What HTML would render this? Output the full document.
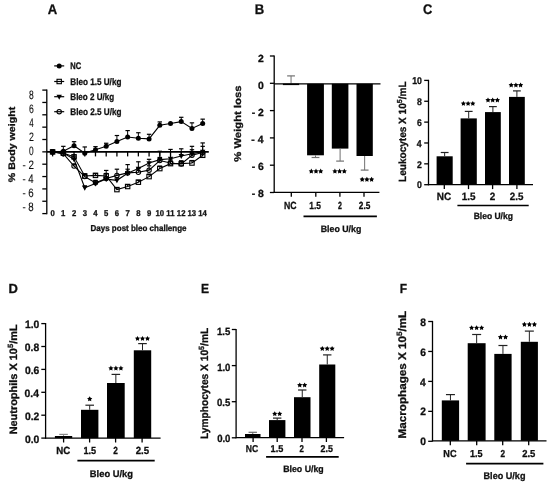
<!DOCTYPE html>
<html><head><meta charset="utf-8"><style>
html,body{margin:0;padding:0;background:#fff;}
svg{display:block;font-family:"Liberation Sans", sans-serif;text-rendering:geometricPrecision;}
text{stroke:#111;stroke-width:0.3;}
text[font-weight=normal]{stroke-width:0.12;}
</style></head><body>
<svg width="550" height="485" viewBox="0 0 550 485">
<defs><filter id="bl" x="0" y="0" width="100%" height="100%"><feGaussianBlur stdDeviation="0.4"/></filter></defs>
<rect width="550" height="485" fill="#fff"/>
<g filter="url(#bl)">
<rect width="550" height="485" fill="#fff"/>
<text x="47.74" y="13.50" font-size="14" font-weight="bold" fill="#111" textLength="9.46" lengthAdjust="spacingAndGlyphs">A</text>
<text x="254.79" y="13.50" font-size="14" font-weight="bold" fill="#111" textLength="9.46" lengthAdjust="spacingAndGlyphs">B</text>
<text x="422.92" y="13.50" font-size="14" font-weight="bold" fill="#111" textLength="9.28" lengthAdjust="spacingAndGlyphs">C</text>
<text x="8.59" y="293.00" font-size="13.2" font-weight="bold" fill="#111" textLength="9.39" lengthAdjust="spacingAndGlyphs">D</text>
<text x="200.95" y="292.80" font-size="13.2" font-weight="bold" fill="#111" textLength="8.07" lengthAdjust="spacingAndGlyphs">E</text>
<text x="399.66" y="292.80" font-size="13.2" font-weight="bold" fill="#111" textLength="7.32" lengthAdjust="spacingAndGlyphs">F</text>
<line x1="46.80" y1="89.50" x2="46.80" y2="214.20" stroke="#000" stroke-width="1.3" stroke-linecap="butt"/>
<line x1="42.30" y1="90.10" x2="46.80" y2="90.10" stroke="#000" stroke-width="1.3" stroke-linecap="butt"/>
<line x1="42.30" y1="102.45" x2="46.80" y2="102.45" stroke="#000" stroke-width="1.3" stroke-linecap="butt"/>
<line x1="42.30" y1="114.80" x2="46.80" y2="114.80" stroke="#000" stroke-width="1.3" stroke-linecap="butt"/>
<line x1="42.30" y1="127.15" x2="46.80" y2="127.15" stroke="#000" stroke-width="1.3" stroke-linecap="butt"/>
<line x1="42.30" y1="139.50" x2="46.80" y2="139.50" stroke="#000" stroke-width="1.3" stroke-linecap="butt"/>
<line x1="42.30" y1="151.85" x2="46.80" y2="151.85" stroke="#000" stroke-width="1.3" stroke-linecap="butt"/>
<line x1="42.30" y1="164.20" x2="46.80" y2="164.20" stroke="#000" stroke-width="1.3" stroke-linecap="butt"/>
<line x1="42.30" y1="176.55" x2="46.80" y2="176.55" stroke="#000" stroke-width="1.3" stroke-linecap="butt"/>
<line x1="42.30" y1="188.90" x2="46.80" y2="188.90" stroke="#000" stroke-width="1.3" stroke-linecap="butt"/>
<line x1="42.30" y1="201.25" x2="46.80" y2="201.25" stroke="#000" stroke-width="1.3" stroke-linecap="butt"/>
<line x1="42.30" y1="213.60" x2="46.80" y2="213.60" stroke="#000" stroke-width="1.3" stroke-linecap="butt"/>
<text x="28.98" y="98.50" font-size="12.2" font-weight="normal" fill="#111" textLength="4.73" lengthAdjust="spacingAndGlyphs">8</text>
<text x="28.92" y="112.60" font-size="12.2" font-weight="normal" fill="#111" textLength="4.80" lengthAdjust="spacingAndGlyphs">6</text>
<text x="29.18" y="126.70" font-size="12.2" font-weight="normal" fill="#111" textLength="4.41" lengthAdjust="spacingAndGlyphs">4</text>
<text x="28.91" y="140.80" font-size="12.2" font-weight="normal" fill="#111" textLength="4.88" lengthAdjust="spacingAndGlyphs">2</text>
<text x="29.02" y="154.90" font-size="12.2" font-weight="normal" fill="#111" textLength="4.64" lengthAdjust="spacingAndGlyphs">0</text>
<text x="22.42" y="169.00" font-size="12.2" font-weight="normal" fill="#111" textLength="11.42" lengthAdjust="spacingAndGlyphs">- 2</text>
<text x="22.43" y="183.10" font-size="12.2" font-weight="normal" fill="#111" textLength="11.20" lengthAdjust="spacingAndGlyphs">- 4</text>
<text x="22.42" y="197.20" font-size="12.2" font-weight="normal" fill="#111" textLength="11.35" lengthAdjust="spacingAndGlyphs">- 6</text>
<text x="22.42" y="211.30" font-size="12.2" font-weight="normal" fill="#111" textLength="11.35" lengthAdjust="spacingAndGlyphs">- 8</text>
<line x1="46.80" y1="151.90" x2="208.80" y2="151.90" stroke="#000" stroke-width="1.7" stroke-linecap="butt"/>
<line x1="52.60" y1="151.90" x2="52.60" y2="156.40" stroke="#000" stroke-width="1.3" stroke-linecap="butt"/>
<line x1="63.32" y1="151.90" x2="63.32" y2="156.40" stroke="#000" stroke-width="1.3" stroke-linecap="butt"/>
<line x1="74.04" y1="151.90" x2="74.04" y2="156.40" stroke="#000" stroke-width="1.3" stroke-linecap="butt"/>
<line x1="84.76" y1="151.90" x2="84.76" y2="156.40" stroke="#000" stroke-width="1.3" stroke-linecap="butt"/>
<line x1="95.48" y1="151.90" x2="95.48" y2="156.40" stroke="#000" stroke-width="1.3" stroke-linecap="butt"/>
<line x1="106.20" y1="151.90" x2="106.20" y2="156.40" stroke="#000" stroke-width="1.3" stroke-linecap="butt"/>
<line x1="116.92" y1="151.90" x2="116.92" y2="156.40" stroke="#000" stroke-width="1.3" stroke-linecap="butt"/>
<line x1="127.64" y1="151.90" x2="127.64" y2="156.40" stroke="#000" stroke-width="1.3" stroke-linecap="butt"/>
<line x1="138.36" y1="151.90" x2="138.36" y2="156.40" stroke="#000" stroke-width="1.3" stroke-linecap="butt"/>
<line x1="149.08" y1="151.90" x2="149.08" y2="156.40" stroke="#000" stroke-width="1.3" stroke-linecap="butt"/>
<line x1="159.80" y1="151.90" x2="159.80" y2="156.40" stroke="#000" stroke-width="1.3" stroke-linecap="butt"/>
<line x1="170.52" y1="151.90" x2="170.52" y2="156.40" stroke="#000" stroke-width="1.3" stroke-linecap="butt"/>
<line x1="181.24" y1="151.90" x2="181.24" y2="156.40" stroke="#000" stroke-width="1.3" stroke-linecap="butt"/>
<line x1="191.96" y1="151.90" x2="191.96" y2="156.40" stroke="#000" stroke-width="1.3" stroke-linecap="butt"/>
<line x1="202.68" y1="151.90" x2="202.68" y2="156.40" stroke="#000" stroke-width="1.3" stroke-linecap="butt"/>
<text x="50.46" y="216.40" font-size="8.4" font-weight="bold" fill="#111" textLength="4.30" lengthAdjust="spacingAndGlyphs">0</text>
<text x="61.04" y="216.40" font-size="8.4" font-weight="bold" fill="#111" textLength="4.30" lengthAdjust="spacingAndGlyphs">1</text>
<text x="71.91" y="216.40" font-size="8.4" font-weight="bold" fill="#111" textLength="4.30" lengthAdjust="spacingAndGlyphs">2</text>
<text x="82.66" y="216.40" font-size="8.4" font-weight="bold" fill="#111" textLength="4.30" lengthAdjust="spacingAndGlyphs">3</text>
<text x="93.29" y="216.40" font-size="8.4" font-weight="bold" fill="#111" textLength="4.30" lengthAdjust="spacingAndGlyphs">4</text>
<text x="104.04" y="216.40" font-size="8.4" font-weight="bold" fill="#111" textLength="4.30" lengthAdjust="spacingAndGlyphs">5</text>
<text x="114.77" y="216.40" font-size="8.4" font-weight="bold" fill="#111" textLength="4.30" lengthAdjust="spacingAndGlyphs">6</text>
<text x="125.50" y="216.40" font-size="8.4" font-weight="bold" fill="#111" textLength="4.30" lengthAdjust="spacingAndGlyphs">7</text>
<text x="136.21" y="216.40" font-size="8.4" font-weight="bold" fill="#111" textLength="4.30" lengthAdjust="spacingAndGlyphs">8</text>
<text x="146.94" y="216.40" font-size="8.4" font-weight="bold" fill="#111" textLength="4.30" lengthAdjust="spacingAndGlyphs">9</text>
<text x="155.42" y="216.40" font-size="8.4" font-weight="bold" fill="#111" textLength="8.60" lengthAdjust="spacingAndGlyphs">10</text>
<text x="166.30" y="216.40" font-size="8.4" font-weight="bold" fill="#111" textLength="8.17" lengthAdjust="spacingAndGlyphs">11</text>
<text x="176.85" y="216.40" font-size="8.4" font-weight="bold" fill="#111" textLength="8.60" lengthAdjust="spacingAndGlyphs">12</text>
<text x="187.56" y="216.40" font-size="8.4" font-weight="bold" fill="#111" textLength="8.60" lengthAdjust="spacingAndGlyphs">13</text>
<text x="198.16" y="216.40" font-size="8.4" font-weight="bold" fill="#111" textLength="8.60" lengthAdjust="spacingAndGlyphs">14</text>
<text x="90.52" y="230.60" font-size="8.6" font-weight="bold" fill="#111" textLength="96.00" lengthAdjust="spacingAndGlyphs">Days post bleo challenge</text>
<text transform="translate(14.60,182.20) rotate(-90)" x="0" y="0" font-size="9.4" font-weight="bold" fill="#111" textLength="75.39" lengthAdjust="spacingAndGlyphs">% Body weight</text>
<line x1="63.32" y1="153.14" x2="63.32" y2="151.28" stroke="#000" stroke-width="1.0" stroke-linecap="butt"/>
<line x1="61.12" y1="151.28" x2="65.52" y2="151.28" stroke="#000" stroke-width="1.2" stroke-linecap="butt"/>
<line x1="74.04" y1="156.84" x2="74.04" y2="154.99" stroke="#000" stroke-width="1.0" stroke-linecap="butt"/>
<line x1="71.84" y1="154.99" x2="76.24" y2="154.99" stroke="#000" stroke-width="1.2" stroke-linecap="butt"/>
<line x1="84.76" y1="176.00" x2="84.76" y2="174.15" stroke="#000" stroke-width="1.0" stroke-linecap="butt"/>
<line x1="82.56" y1="174.15" x2="86.96" y2="174.15" stroke="#000" stroke-width="1.2" stroke-linecap="butt"/>
<line x1="95.48" y1="175.38" x2="95.48" y2="173.53" stroke="#000" stroke-width="1.0" stroke-linecap="butt"/>
<line x1="93.28" y1="173.53" x2="97.68" y2="173.53" stroke="#000" stroke-width="1.2" stroke-linecap="butt"/>
<line x1="106.20" y1="176.00" x2="106.20" y2="173.53" stroke="#000" stroke-width="1.0" stroke-linecap="butt"/>
<line x1="104.00" y1="173.53" x2="108.40" y2="173.53" stroke="#000" stroke-width="1.2" stroke-linecap="butt"/>
<line x1="116.92" y1="189.60" x2="116.92" y2="187.74" stroke="#000" stroke-width="1.0" stroke-linecap="butt"/>
<line x1="114.72" y1="187.74" x2="119.12" y2="187.74" stroke="#000" stroke-width="1.2" stroke-linecap="butt"/>
<line x1="127.64" y1="186.51" x2="127.64" y2="184.65" stroke="#000" stroke-width="1.0" stroke-linecap="butt"/>
<line x1="125.44" y1="184.65" x2="129.84" y2="184.65" stroke="#000" stroke-width="1.2" stroke-linecap="butt"/>
<line x1="138.36" y1="182.18" x2="138.36" y2="180.33" stroke="#000" stroke-width="1.0" stroke-linecap="butt"/>
<line x1="136.16" y1="180.33" x2="140.56" y2="180.33" stroke="#000" stroke-width="1.2" stroke-linecap="butt"/>
<line x1="149.08" y1="176.62" x2="149.08" y2="174.15" stroke="#000" stroke-width="1.0" stroke-linecap="butt"/>
<line x1="146.88" y1="174.15" x2="151.28" y2="174.15" stroke="#000" stroke-width="1.2" stroke-linecap="butt"/>
<line x1="159.80" y1="168.59" x2="159.80" y2="166.11" stroke="#000" stroke-width="1.0" stroke-linecap="butt"/>
<line x1="157.60" y1="166.11" x2="162.00" y2="166.11" stroke="#000" stroke-width="1.2" stroke-linecap="butt"/>
<line x1="170.52" y1="163.64" x2="170.52" y2="161.17" stroke="#000" stroke-width="1.0" stroke-linecap="butt"/>
<line x1="168.32" y1="161.17" x2="172.72" y2="161.17" stroke="#000" stroke-width="1.2" stroke-linecap="butt"/>
<line x1="181.24" y1="163.64" x2="181.24" y2="161.17" stroke="#000" stroke-width="1.0" stroke-linecap="butt"/>
<line x1="179.04" y1="161.17" x2="183.44" y2="161.17" stroke="#000" stroke-width="1.2" stroke-linecap="butt"/>
<line x1="191.96" y1="163.02" x2="191.96" y2="160.55" stroke="#000" stroke-width="1.0" stroke-linecap="butt"/>
<line x1="189.76" y1="160.55" x2="194.16" y2="160.55" stroke="#000" stroke-width="1.2" stroke-linecap="butt"/>
<line x1="202.68" y1="155.30" x2="202.68" y2="152.21" stroke="#000" stroke-width="1.0" stroke-linecap="butt"/>
<line x1="200.48" y1="152.21" x2="204.88" y2="152.21" stroke="#000" stroke-width="1.2" stroke-linecap="butt"/>
<line x1="63.32" y1="153.14" x2="63.32" y2="151.28" stroke="#000" stroke-width="1.0" stroke-linecap="butt"/>
<line x1="61.12" y1="151.28" x2="65.52" y2="151.28" stroke="#000" stroke-width="1.2" stroke-linecap="butt"/>
<line x1="74.04" y1="159.32" x2="74.04" y2="156.84" stroke="#000" stroke-width="1.0" stroke-linecap="butt"/>
<line x1="71.84" y1="156.84" x2="76.24" y2="156.84" stroke="#000" stroke-width="1.2" stroke-linecap="butt"/>
<line x1="84.76" y1="187.74" x2="84.76" y2="185.89" stroke="#000" stroke-width="1.0" stroke-linecap="butt"/>
<line x1="82.56" y1="185.89" x2="86.96" y2="185.89" stroke="#000" stroke-width="1.2" stroke-linecap="butt"/>
<line x1="95.48" y1="183.42" x2="95.48" y2="180.95" stroke="#000" stroke-width="1.0" stroke-linecap="butt"/>
<line x1="93.28" y1="180.95" x2="97.68" y2="180.95" stroke="#000" stroke-width="1.2" stroke-linecap="butt"/>
<line x1="106.20" y1="179.09" x2="106.20" y2="173.53" stroke="#000" stroke-width="1.0" stroke-linecap="butt"/>
<line x1="104.00" y1="173.53" x2="108.40" y2="173.53" stroke="#000" stroke-width="1.2" stroke-linecap="butt"/>
<line x1="116.92" y1="180.33" x2="116.92" y2="177.86" stroke="#000" stroke-width="1.0" stroke-linecap="butt"/>
<line x1="114.72" y1="177.86" x2="119.12" y2="177.86" stroke="#000" stroke-width="1.2" stroke-linecap="butt"/>
<line x1="127.64" y1="173.22" x2="127.64" y2="164.57" stroke="#000" stroke-width="1.0" stroke-linecap="butt"/>
<line x1="125.44" y1="164.57" x2="129.84" y2="164.57" stroke="#000" stroke-width="1.2" stroke-linecap="butt"/>
<line x1="138.36" y1="168.59" x2="138.36" y2="161.79" stroke="#000" stroke-width="1.0" stroke-linecap="butt"/>
<line x1="136.16" y1="161.79" x2="140.56" y2="161.79" stroke="#000" stroke-width="1.2" stroke-linecap="butt"/>
<line x1="149.08" y1="163.02" x2="149.08" y2="159.32" stroke="#000" stroke-width="1.0" stroke-linecap="butt"/>
<line x1="146.88" y1="159.32" x2="151.28" y2="159.32" stroke="#000" stroke-width="1.2" stroke-linecap="butt"/>
<line x1="159.80" y1="159.62" x2="159.80" y2="151.28" stroke="#000" stroke-width="1.0" stroke-linecap="butt"/>
<line x1="157.60" y1="151.28" x2="162.00" y2="151.28" stroke="#000" stroke-width="1.2" stroke-linecap="butt"/>
<line x1="170.52" y1="158.70" x2="170.52" y2="149.43" stroke="#000" stroke-width="1.0" stroke-linecap="butt"/>
<line x1="168.32" y1="149.43" x2="172.72" y2="149.43" stroke="#000" stroke-width="1.2" stroke-linecap="butt"/>
<line x1="181.24" y1="155.92" x2="181.24" y2="148.81" stroke="#000" stroke-width="1.0" stroke-linecap="butt"/>
<line x1="179.04" y1="148.81" x2="183.44" y2="148.81" stroke="#000" stroke-width="1.2" stroke-linecap="butt"/>
<line x1="191.96" y1="153.75" x2="191.96" y2="146.34" stroke="#000" stroke-width="1.0" stroke-linecap="butt"/>
<line x1="189.76" y1="146.34" x2="194.16" y2="146.34" stroke="#000" stroke-width="1.2" stroke-linecap="butt"/>
<line x1="202.68" y1="151.59" x2="202.68" y2="142.94" stroke="#000" stroke-width="1.0" stroke-linecap="butt"/>
<line x1="200.48" y1="142.94" x2="204.88" y2="142.94" stroke="#000" stroke-width="1.2" stroke-linecap="butt"/>
<line x1="63.32" y1="153.75" x2="63.32" y2="151.28" stroke="#000" stroke-width="1.0" stroke-linecap="butt"/>
<line x1="61.12" y1="151.28" x2="65.52" y2="151.28" stroke="#000" stroke-width="1.2" stroke-linecap="butt"/>
<line x1="74.04" y1="166.11" x2="74.04" y2="164.26" stroke="#000" stroke-width="1.0" stroke-linecap="butt"/>
<line x1="71.84" y1="164.26" x2="76.24" y2="164.26" stroke="#000" stroke-width="1.2" stroke-linecap="butt"/>
<line x1="84.76" y1="176.62" x2="84.76" y2="174.15" stroke="#000" stroke-width="1.0" stroke-linecap="butt"/>
<line x1="82.56" y1="174.15" x2="86.96" y2="174.15" stroke="#000" stroke-width="1.2" stroke-linecap="butt"/>
<line x1="95.48" y1="182.80" x2="95.48" y2="180.33" stroke="#000" stroke-width="1.0" stroke-linecap="butt"/>
<line x1="93.28" y1="180.33" x2="97.68" y2="180.33" stroke="#000" stroke-width="1.2" stroke-linecap="butt"/>
<line x1="106.20" y1="178.47" x2="106.20" y2="170.44" stroke="#000" stroke-width="1.0" stroke-linecap="butt"/>
<line x1="104.00" y1="170.44" x2="108.40" y2="170.44" stroke="#000" stroke-width="1.2" stroke-linecap="butt"/>
<line x1="116.92" y1="175.38" x2="116.92" y2="169.20" stroke="#000" stroke-width="1.0" stroke-linecap="butt"/>
<line x1="114.72" y1="169.20" x2="119.12" y2="169.20" stroke="#000" stroke-width="1.2" stroke-linecap="butt"/>
<line x1="127.64" y1="172.91" x2="127.64" y2="169.20" stroke="#000" stroke-width="1.0" stroke-linecap="butt"/>
<line x1="125.44" y1="169.20" x2="129.84" y2="169.20" stroke="#000" stroke-width="1.2" stroke-linecap="butt"/>
<line x1="138.36" y1="172.29" x2="138.36" y2="168.59" stroke="#000" stroke-width="1.0" stroke-linecap="butt"/>
<line x1="136.16" y1="168.59" x2="140.56" y2="168.59" stroke="#000" stroke-width="1.2" stroke-linecap="butt"/>
<line x1="149.08" y1="170.13" x2="149.08" y2="165.81" stroke="#000" stroke-width="1.0" stroke-linecap="butt"/>
<line x1="146.88" y1="165.81" x2="151.28" y2="165.81" stroke="#000" stroke-width="1.2" stroke-linecap="butt"/>
<line x1="159.80" y1="160.55" x2="159.80" y2="157.46" stroke="#000" stroke-width="1.0" stroke-linecap="butt"/>
<line x1="157.60" y1="157.46" x2="162.00" y2="157.46" stroke="#000" stroke-width="1.2" stroke-linecap="butt"/>
<line x1="170.52" y1="163.02" x2="170.52" y2="159.93" stroke="#000" stroke-width="1.0" stroke-linecap="butt"/>
<line x1="168.32" y1="159.93" x2="172.72" y2="159.93" stroke="#000" stroke-width="1.2" stroke-linecap="butt"/>
<line x1="181.24" y1="163.95" x2="181.24" y2="160.86" stroke="#000" stroke-width="1.0" stroke-linecap="butt"/>
<line x1="179.04" y1="160.86" x2="183.44" y2="160.86" stroke="#000" stroke-width="1.2" stroke-linecap="butt"/>
<line x1="191.96" y1="155.30" x2="191.96" y2="149.74" stroke="#000" stroke-width="1.0" stroke-linecap="butt"/>
<line x1="189.76" y1="149.74" x2="194.16" y2="149.74" stroke="#000" stroke-width="1.2" stroke-linecap="butt"/>
<line x1="202.68" y1="152.52" x2="202.68" y2="146.34" stroke="#000" stroke-width="1.0" stroke-linecap="butt"/>
<line x1="200.48" y1="146.34" x2="204.88" y2="146.34" stroke="#000" stroke-width="1.2" stroke-linecap="butt"/>
<line x1="52.60" y1="151.90" x2="52.60" y2="150.05" stroke="#000" stroke-width="1.0" stroke-linecap="butt"/>
<line x1="50.40" y1="150.05" x2="54.80" y2="150.05" stroke="#000" stroke-width="1.2" stroke-linecap="butt"/>
<line x1="63.32" y1="151.28" x2="63.32" y2="146.34" stroke="#000" stroke-width="1.0" stroke-linecap="butt"/>
<line x1="61.12" y1="146.34" x2="65.52" y2="146.34" stroke="#000" stroke-width="1.2" stroke-linecap="butt"/>
<line x1="74.04" y1="145.72" x2="74.04" y2="141.70" stroke="#000" stroke-width="1.0" stroke-linecap="butt"/>
<line x1="71.84" y1="141.70" x2="76.24" y2="141.70" stroke="#000" stroke-width="1.2" stroke-linecap="butt"/>
<line x1="84.76" y1="153.14" x2="84.76" y2="146.96" stroke="#000" stroke-width="1.0" stroke-linecap="butt"/>
<line x1="82.56" y1="146.96" x2="86.96" y2="146.96" stroke="#000" stroke-width="1.2" stroke-linecap="butt"/>
<line x1="95.48" y1="149.74" x2="95.48" y2="146.65" stroke="#000" stroke-width="1.0" stroke-linecap="butt"/>
<line x1="93.28" y1="146.65" x2="97.68" y2="146.65" stroke="#000" stroke-width="1.2" stroke-linecap="butt"/>
<line x1="106.20" y1="146.34" x2="106.20" y2="143.25" stroke="#000" stroke-width="1.0" stroke-linecap="butt"/>
<line x1="104.00" y1="143.25" x2="108.40" y2="143.25" stroke="#000" stroke-width="1.2" stroke-linecap="butt"/>
<line x1="116.92" y1="141.39" x2="116.92" y2="135.52" stroke="#000" stroke-width="1.0" stroke-linecap="butt"/>
<line x1="114.72" y1="135.52" x2="119.12" y2="135.52" stroke="#000" stroke-width="1.2" stroke-linecap="butt"/>
<line x1="127.64" y1="137.07" x2="127.64" y2="130.58" stroke="#000" stroke-width="1.0" stroke-linecap="butt"/>
<line x1="125.44" y1="130.58" x2="129.84" y2="130.58" stroke="#000" stroke-width="1.2" stroke-linecap="butt"/>
<line x1="138.36" y1="138.30" x2="138.36" y2="132.74" stroke="#000" stroke-width="1.0" stroke-linecap="butt"/>
<line x1="136.16" y1="132.74" x2="140.56" y2="132.74" stroke="#000" stroke-width="1.2" stroke-linecap="butt"/>
<line x1="149.08" y1="138.92" x2="149.08" y2="134.29" stroke="#000" stroke-width="1.0" stroke-linecap="butt"/>
<line x1="146.88" y1="134.29" x2="151.28" y2="134.29" stroke="#000" stroke-width="1.2" stroke-linecap="butt"/>
<line x1="159.80" y1="125.33" x2="159.80" y2="121.93" stroke="#000" stroke-width="1.0" stroke-linecap="butt"/>
<line x1="157.60" y1="121.93" x2="162.00" y2="121.93" stroke="#000" stroke-width="1.2" stroke-linecap="butt"/>
<line x1="181.24" y1="121.62" x2="181.24" y2="117.29" stroke="#000" stroke-width="1.0" stroke-linecap="butt"/>
<line x1="179.04" y1="117.29" x2="183.44" y2="117.29" stroke="#000" stroke-width="1.2" stroke-linecap="butt"/>
<line x1="191.96" y1="128.42" x2="191.96" y2="122.85" stroke="#000" stroke-width="1.0" stroke-linecap="butt"/>
<line x1="189.76" y1="122.85" x2="194.16" y2="122.85" stroke="#000" stroke-width="1.2" stroke-linecap="butt"/>
<line x1="202.68" y1="123.47" x2="202.68" y2="119.15" stroke="#000" stroke-width="1.0" stroke-linecap="butt"/>
<line x1="200.48" y1="119.15" x2="204.88" y2="119.15" stroke="#000" stroke-width="1.2" stroke-linecap="butt"/>
<polyline points="52.60,151.90 63.32,153.14 74.04,156.84 84.76,176.00 95.48,175.38 106.20,176.00 116.92,189.60 127.64,186.51 138.36,182.18 149.08,176.62 159.80,168.59 170.52,163.64 181.24,163.64 191.96,163.02 202.68,155.30" fill="none" stroke="#000" stroke-width="1.1" stroke-linejoin="miter"/>
<polyline points="52.60,151.90 63.32,153.14 74.04,159.32 84.76,187.74 95.48,183.42 106.20,179.09 116.92,180.33 127.64,173.22 138.36,168.59 149.08,163.02 159.80,159.62 170.52,158.70 181.24,155.92 191.96,153.75 202.68,151.59" fill="none" stroke="#000" stroke-width="1.1" stroke-linejoin="miter"/>
<polyline points="52.60,151.90 63.32,153.75 74.04,166.11 84.76,176.62 95.48,182.80 106.20,178.47 116.92,175.38 127.64,172.91 138.36,172.29 149.08,170.13 159.80,160.55 170.52,163.02 181.24,163.95 191.96,155.30 202.68,152.52" fill="none" stroke="#000" stroke-width="1.1" stroke-linejoin="miter"/>
<polyline points="52.60,151.90 63.32,151.28 74.04,145.72 84.76,153.14 95.48,149.74 106.20,146.34 116.92,141.39 127.64,137.07 138.36,138.30 149.08,138.92 159.80,125.33 170.52,123.47 181.24,121.62 191.96,128.42 202.68,123.47" fill="none" stroke="#000" stroke-width="1.1" stroke-linejoin="miter"/>
<rect x="50.40" y="149.70" width="4.4" height="4.4" fill="none" stroke="#000" stroke-width="1.1"/>
<circle cx="52.60" cy="151.90" r="2.2" fill="none" stroke="#000" stroke-width="1.1"/>
<polygon points="49.90,150.01 55.30,150.01 52.60,154.87" fill="#000"/>
<circle cx="52.60" cy="151.90" r="2.5" fill="#000"/>
<rect x="61.12" y="150.94" width="4.4" height="4.4" fill="none" stroke="#000" stroke-width="1.1"/>
<circle cx="63.32" cy="153.75" r="2.2" fill="none" stroke="#000" stroke-width="1.1"/>
<polygon points="60.62,151.25 66.02,151.25 63.32,156.11" fill="#000"/>
<circle cx="63.32" cy="151.28" r="2.5" fill="#000"/>
<rect x="71.84" y="154.64" width="4.4" height="4.4" fill="none" stroke="#000" stroke-width="1.1"/>
<circle cx="74.04" cy="166.11" r="2.2" fill="none" stroke="#000" stroke-width="1.1"/>
<polygon points="71.34,157.43 76.74,157.43 74.04,162.29" fill="#000"/>
<circle cx="74.04" cy="145.72" r="2.5" fill="#000"/>
<rect x="82.56" y="173.80" width="4.4" height="4.4" fill="none" stroke="#000" stroke-width="1.1"/>
<circle cx="84.76" cy="176.62" r="2.2" fill="none" stroke="#000" stroke-width="1.1"/>
<polygon points="82.06,185.85 87.46,185.85 84.76,190.71" fill="#000"/>
<circle cx="84.76" cy="153.14" r="2.5" fill="#000"/>
<rect x="93.28" y="173.18" width="4.4" height="4.4" fill="none" stroke="#000" stroke-width="1.1"/>
<circle cx="95.48" cy="182.80" r="2.2" fill="none" stroke="#000" stroke-width="1.1"/>
<polygon points="92.78,181.53 98.18,181.53 95.48,186.39" fill="#000"/>
<circle cx="95.48" cy="149.74" r="2.5" fill="#000"/>
<rect x="104.00" y="173.80" width="4.4" height="4.4" fill="none" stroke="#000" stroke-width="1.1"/>
<circle cx="106.20" cy="178.47" r="2.2" fill="none" stroke="#000" stroke-width="1.1"/>
<polygon points="103.50,177.20 108.90,177.20 106.20,182.06" fill="#000"/>
<circle cx="106.20" cy="146.34" r="2.5" fill="#000"/>
<rect x="114.72" y="187.40" width="4.4" height="4.4" fill="none" stroke="#000" stroke-width="1.1"/>
<circle cx="116.92" cy="175.38" r="2.2" fill="none" stroke="#000" stroke-width="1.1"/>
<polygon points="114.22,178.44 119.62,178.44 116.92,183.30" fill="#000"/>
<circle cx="116.92" cy="141.39" r="2.5" fill="#000"/>
<rect x="125.44" y="184.31" width="4.4" height="4.4" fill="none" stroke="#000" stroke-width="1.1"/>
<circle cx="127.64" cy="172.91" r="2.2" fill="none" stroke="#000" stroke-width="1.1"/>
<polygon points="124.94,171.33 130.34,171.33 127.64,176.19" fill="#000"/>
<circle cx="127.64" cy="137.07" r="2.5" fill="#000"/>
<rect x="136.16" y="179.98" width="4.4" height="4.4" fill="none" stroke="#000" stroke-width="1.1"/>
<circle cx="138.36" cy="172.29" r="2.2" fill="none" stroke="#000" stroke-width="1.1"/>
<polygon points="135.66,166.70 141.06,166.70 138.36,171.56" fill="#000"/>
<circle cx="138.36" cy="138.30" r="2.5" fill="#000"/>
<rect x="146.88" y="174.42" width="4.4" height="4.4" fill="none" stroke="#000" stroke-width="1.1"/>
<circle cx="149.08" cy="170.13" r="2.2" fill="none" stroke="#000" stroke-width="1.1"/>
<polygon points="146.38,161.13 151.78,161.13 149.08,165.99" fill="#000"/>
<circle cx="149.08" cy="138.92" r="2.5" fill="#000"/>
<rect x="157.60" y="166.39" width="4.4" height="4.4" fill="none" stroke="#000" stroke-width="1.1"/>
<circle cx="159.80" cy="160.55" r="2.2" fill="none" stroke="#000" stroke-width="1.1"/>
<polygon points="157.10,157.74 162.50,157.74 159.80,162.59" fill="#000"/>
<circle cx="159.80" cy="125.33" r="2.5" fill="#000"/>
<rect x="168.32" y="161.44" width="4.4" height="4.4" fill="none" stroke="#000" stroke-width="1.1"/>
<circle cx="170.52" cy="163.02" r="2.2" fill="none" stroke="#000" stroke-width="1.1"/>
<polygon points="167.82,156.81 173.22,156.81 170.52,161.67" fill="#000"/>
<circle cx="170.52" cy="123.47" r="2.5" fill="#000"/>
<rect x="179.04" y="161.44" width="4.4" height="4.4" fill="none" stroke="#000" stroke-width="1.1"/>
<circle cx="181.24" cy="163.95" r="2.2" fill="none" stroke="#000" stroke-width="1.1"/>
<polygon points="178.54,154.03 183.94,154.03 181.24,158.89" fill="#000"/>
<circle cx="181.24" cy="121.62" r="2.5" fill="#000"/>
<rect x="189.76" y="160.82" width="4.4" height="4.4" fill="none" stroke="#000" stroke-width="1.1"/>
<circle cx="191.96" cy="155.30" r="2.2" fill="none" stroke="#000" stroke-width="1.1"/>
<polygon points="189.26,151.86 194.66,151.86 191.96,156.72" fill="#000"/>
<circle cx="191.96" cy="128.42" r="2.5" fill="#000"/>
<rect x="200.48" y="153.10" width="4.4" height="4.4" fill="none" stroke="#000" stroke-width="1.1"/>
<circle cx="202.68" cy="152.52" r="2.2" fill="none" stroke="#000" stroke-width="1.1"/>
<polygon points="199.98,149.70 205.38,149.70 202.68,154.56" fill="#000"/>
<circle cx="202.68" cy="123.47" r="2.5" fill="#000"/>
<line x1="54.20" y1="65.90" x2="64.20" y2="65.90" stroke="#000" stroke-width="1.2" stroke-linecap="butt"/>
<circle cx="59.20" cy="65.90" r="2.5" fill="#000"/>
<text x="70.35" y="68.90" font-size="9.6" font-weight="bold" fill="#111" textLength="10.90" lengthAdjust="spacingAndGlyphs">NC</text>
<line x1="54.20" y1="81.50" x2="64.20" y2="81.50" stroke="#000" stroke-width="1.2" stroke-linecap="butt"/>
<rect x="57.00" y="79.30" width="4.4" height="4.4" fill="none" stroke="#000" stroke-width="1.1"/>
<text x="70.31" y="84.60" font-size="9.6" font-weight="bold" fill="#111" textLength="51.08" lengthAdjust="spacingAndGlyphs">Bleo 1.5 U/kg</text>
<line x1="54.20" y1="96.70" x2="64.20" y2="96.70" stroke="#000" stroke-width="1.2" stroke-linecap="butt"/>
<polygon points="56.50,94.81 61.90,94.81 59.20,99.67" fill="#000"/>
<text x="70.32" y="99.80" font-size="9.6" font-weight="bold" fill="#111" textLength="43.87" lengthAdjust="spacingAndGlyphs">Bleo 2 U/kg</text>
<line x1="54.20" y1="111.70" x2="64.20" y2="111.70" stroke="#000" stroke-width="1.2" stroke-linecap="butt"/>
<circle cx="59.20" cy="111.70" r="2.2" fill="none" stroke="#000" stroke-width="1.1"/>
<text x="70.31" y="114.90" font-size="9.6" font-weight="bold" fill="#111" textLength="51.18" lengthAdjust="spacingAndGlyphs">Bleo 2.5 U/kg</text>
<line x1="274.20" y1="55.40" x2="274.20" y2="193.00" stroke="#000" stroke-width="1.3" stroke-linecap="butt"/>
<line x1="269.90" y1="56.00" x2="274.20" y2="56.00" stroke="#000" stroke-width="1.3" stroke-linecap="butt"/>
<line x1="269.90" y1="83.30" x2="274.20" y2="83.30" stroke="#000" stroke-width="1.3" stroke-linecap="butt"/>
<line x1="269.90" y1="110.60" x2="274.20" y2="110.60" stroke="#000" stroke-width="1.3" stroke-linecap="butt"/>
<line x1="269.90" y1="137.90" x2="274.20" y2="137.90" stroke="#000" stroke-width="1.3" stroke-linecap="butt"/>
<line x1="269.90" y1="165.20" x2="274.20" y2="165.20" stroke="#000" stroke-width="1.3" stroke-linecap="butt"/>
<line x1="269.90" y1="192.50" x2="274.20" y2="192.50" stroke="#000" stroke-width="1.3" stroke-linecap="butt"/>
<text x="258.07" y="62.24" font-size="10.4" font-weight="bold" fill="#111" textLength="5.78" lengthAdjust="spacingAndGlyphs">2</text>
<text x="258.08" y="88.94" font-size="10.4" font-weight="bold" fill="#111" textLength="5.78" lengthAdjust="spacingAndGlyphs">0</text>
<text x="251.72" y="116.24" font-size="10.4" font-weight="bold" fill="#111" textLength="12.14" lengthAdjust="spacingAndGlyphs">- 2</text>
<text x="251.37" y="143.44" font-size="10.4" font-weight="bold" fill="#111" textLength="12.14" lengthAdjust="spacingAndGlyphs">- 4</text>
<text x="251.68" y="170.04" font-size="10.4" font-weight="bold" fill="#111" textLength="12.14" lengthAdjust="spacingAndGlyphs">- 6</text>
<text x="251.63" y="196.84" font-size="10.4" font-weight="bold" fill="#111" textLength="12.14" lengthAdjust="spacingAndGlyphs">- 8</text>
<line x1="273.60" y1="192.40" x2="379.40" y2="192.40" stroke="#000" stroke-width="1.3" stroke-linecap="butt"/>
<line x1="291.30" y1="192.40" x2="291.30" y2="196.80" stroke="#000" stroke-width="1.3" stroke-linecap="butt"/>
<line x1="315.80" y1="192.40" x2="315.80" y2="196.80" stroke="#000" stroke-width="1.3" stroke-linecap="butt"/>
<line x1="339.90" y1="192.40" x2="339.90" y2="196.80" stroke="#000" stroke-width="1.3" stroke-linecap="butt"/>
<line x1="364.00" y1="192.40" x2="364.00" y2="196.80" stroke="#000" stroke-width="1.3" stroke-linecap="butt"/>
<rect x="282.90" y="83.60" width="16.30" height="1.50" fill="#000"/>
<line x1="291.05" y1="83.80" x2="291.05" y2="75.90" stroke="#707070" stroke-width="1.0" stroke-linecap="butt"/>
<line x1="287.15" y1="75.90" x2="294.95" y2="75.90" stroke="#707070" stroke-width="1.2" stroke-linecap="butt"/>
<rect x="307.10" y="83.80" width="16.80" height="71.50" fill="#000"/>
<line x1="315.50" y1="155.30" x2="315.50" y2="157.50" stroke="#707070" stroke-width="1.0" stroke-linecap="butt"/>
<line x1="311.60" y1="157.50" x2="319.40" y2="157.50" stroke="#707070" stroke-width="1.2" stroke-linecap="butt"/>
<rect x="331.80" y="83.80" width="16.60" height="64.80" fill="#000"/>
<line x1="340.10" y1="148.60" x2="340.10" y2="161.10" stroke="#707070" stroke-width="1.0" stroke-linecap="butt"/>
<line x1="336.20" y1="161.10" x2="344.00" y2="161.10" stroke="#707070" stroke-width="1.2" stroke-linecap="butt"/>
<rect x="356.50" y="83.80" width="16.30" height="72.20" fill="#000"/>
<line x1="364.65" y1="156.00" x2="364.65" y2="170.10" stroke="#707070" stroke-width="1.0" stroke-linecap="butt"/>
<line x1="360.75" y1="170.10" x2="368.55" y2="170.10" stroke="#707070" stroke-width="1.2" stroke-linecap="butt"/>
<text x="284.07" y="208.63" font-size="10.37" font-weight="bold" fill="#111" textLength="12.62" lengthAdjust="spacingAndGlyphs">NC</text>
<text x="309.23" y="208.63" font-size="10.37" font-weight="bold" fill="#111" textLength="11.65" lengthAdjust="spacingAndGlyphs">1.5</text>
<text x="338.01" y="208.63" font-size="10.37" font-weight="bold" fill="#111" textLength="3.91" lengthAdjust="spacingAndGlyphs">2</text>
<text x="358.87" y="208.63" font-size="10.37" font-weight="bold" fill="#111" textLength="11.51" lengthAdjust="spacingAndGlyphs">2.5</text>
<line x1="303.50" y1="216.30" x2="376.90" y2="216.30" stroke="#000" stroke-width="1.7" stroke-linecap="butt"/>
<text x="320.77" y="232.00" font-size="9.2" font-weight="bold" fill="#111" textLength="40.57" lengthAdjust="spacingAndGlyphs">Bleo U/kg</text>
<polygon points="311.30,168.60 312.13,170.16 313.87,170.47 312.64,171.73 312.89,173.48 311.30,172.70 309.71,173.48 309.96,171.73 308.73,170.47 310.47,170.16" fill="#000"/>
<polygon points="316.00,168.60 316.83,170.16 318.57,170.47 317.34,171.73 317.59,173.48 316.00,172.70 314.41,173.48 314.66,171.73 313.43,170.47 315.17,170.16" fill="#000"/>
<polygon points="320.70,168.60 321.53,170.16 323.27,170.47 322.04,171.73 322.29,173.48 320.70,172.70 319.11,173.48 319.36,171.73 318.13,170.47 319.87,170.16" fill="#000"/>
<polygon points="334.90,168.60 335.73,170.16 337.47,170.47 336.24,171.73 336.49,173.48 334.90,172.70 333.31,173.48 333.56,171.73 332.33,170.47 334.07,170.16" fill="#000"/>
<polygon points="339.60,168.60 340.43,170.16 342.17,170.47 340.94,171.73 341.19,173.48 339.60,172.70 338.01,173.48 338.26,171.73 337.03,170.47 338.77,170.16" fill="#000"/>
<polygon points="344.30,168.60 345.13,170.16 346.87,170.47 345.64,171.73 345.89,173.48 344.30,172.70 342.71,173.48 342.96,171.73 341.73,170.47 343.47,170.16" fill="#000"/>
<polygon points="362.20,176.80 363.03,178.36 364.77,178.67 363.54,179.93 363.79,181.68 362.20,180.90 360.61,181.68 360.86,179.93 359.63,178.67 361.37,178.36" fill="#000"/>
<polygon points="366.90,176.80 367.73,178.36 369.47,178.67 368.24,179.93 368.49,181.68 366.90,180.90 365.31,181.68 365.56,179.93 364.33,178.67 366.07,178.36" fill="#000"/>
<polygon points="371.60,176.80 372.43,178.36 374.17,178.67 372.94,179.93 373.19,181.68 371.60,180.90 370.01,181.68 370.26,179.93 369.03,178.67 370.77,178.36" fill="#000"/>
<line x1="274.20" y1="83.80" x2="380.50" y2="83.80" stroke="#000" stroke-width="1.3" stroke-linecap="butt"/>
<text transform="translate(241.40,161.72) rotate(-90)" x="0" y="0" font-size="9.8" font-weight="bold" fill="#111" textLength="76.22" lengthAdjust="spacingAndGlyphs">% Weight loss</text>
<line x1="428.50" y1="79.80" x2="428.50" y2="185.30" stroke="#000" stroke-width="1.3" stroke-linecap="butt"/>
<line x1="424.20" y1="80.40" x2="428.50" y2="80.40" stroke="#000" stroke-width="1.3" stroke-linecap="butt"/>
<line x1="424.20" y1="101.26" x2="428.50" y2="101.26" stroke="#000" stroke-width="1.3" stroke-linecap="butt"/>
<line x1="424.20" y1="122.12" x2="428.50" y2="122.12" stroke="#000" stroke-width="1.3" stroke-linecap="butt"/>
<line x1="424.20" y1="142.98" x2="428.50" y2="142.98" stroke="#000" stroke-width="1.3" stroke-linecap="butt"/>
<line x1="424.20" y1="163.84" x2="428.50" y2="163.84" stroke="#000" stroke-width="1.3" stroke-linecap="butt"/>
<line x1="424.20" y1="184.70" x2="428.50" y2="184.70" stroke="#000" stroke-width="1.3" stroke-linecap="butt"/>
<text x="412.20" y="84.33" font-size="9.8" font-weight="bold" fill="#111" textLength="9.70" lengthAdjust="spacingAndGlyphs">10</text>
<text x="416.96" y="105.33" font-size="9.8" font-weight="bold" fill="#111" textLength="4.85" lengthAdjust="spacingAndGlyphs">8</text>
<text x="417.01" y="126.03" font-size="9.8" font-weight="bold" fill="#111" textLength="4.85" lengthAdjust="spacingAndGlyphs">6</text>
<text x="416.74" y="146.73" font-size="9.8" font-weight="bold" fill="#111" textLength="4.85" lengthAdjust="spacingAndGlyphs">4</text>
<text x="417.04" y="167.53" font-size="9.8" font-weight="bold" fill="#111" textLength="4.85" lengthAdjust="spacingAndGlyphs">2</text>
<text x="417.05" y="188.33" font-size="9.8" font-weight="bold" fill="#111" textLength="4.85" lengthAdjust="spacingAndGlyphs">0</text>
<line x1="427.90" y1="184.70" x2="533.00" y2="184.70" stroke="#000" stroke-width="1.3" stroke-linecap="butt"/>
<line x1="444.30" y1="184.70" x2="444.30" y2="189.10" stroke="#000" stroke-width="1.3" stroke-linecap="butt"/>
<line x1="468.50" y1="184.70" x2="468.50" y2="189.10" stroke="#000" stroke-width="1.3" stroke-linecap="butt"/>
<line x1="492.60" y1="184.70" x2="492.60" y2="189.10" stroke="#000" stroke-width="1.3" stroke-linecap="butt"/>
<line x1="516.90" y1="184.70" x2="516.90" y2="189.10" stroke="#000" stroke-width="1.3" stroke-linecap="butt"/>
<rect x="436.60" y="156.30" width="16.10" height="28.40" fill="#000"/>
<line x1="444.65" y1="156.30" x2="444.65" y2="152.50" stroke="#222" stroke-width="1.0" stroke-linecap="butt"/>
<line x1="440.75" y1="152.50" x2="448.55" y2="152.50" stroke="#222" stroke-width="1.2" stroke-linecap="butt"/>
<rect x="460.60" y="118.40" width="16.20" height="66.30" fill="#000"/>
<line x1="468.70" y1="118.40" x2="468.70" y2="111.40" stroke="#222" stroke-width="1.0" stroke-linecap="butt"/>
<line x1="464.80" y1="111.40" x2="472.60" y2="111.40" stroke="#222" stroke-width="1.2" stroke-linecap="butt"/>
<rect x="485.00" y="112.10" width="15.80" height="72.60" fill="#000"/>
<line x1="492.90" y1="112.10" x2="492.90" y2="106.60" stroke="#222" stroke-width="1.0" stroke-linecap="butt"/>
<line x1="489.00" y1="106.60" x2="496.80" y2="106.60" stroke="#222" stroke-width="1.2" stroke-linecap="butt"/>
<rect x="509.00" y="96.90" width="15.80" height="87.80" fill="#000"/>
<line x1="516.90" y1="96.90" x2="516.90" y2="90.90" stroke="#222" stroke-width="1.0" stroke-linecap="butt"/>
<line x1="513.00" y1="90.90" x2="520.80" y2="90.90" stroke="#222" stroke-width="1.2" stroke-linecap="butt"/>
<text x="436.69" y="200.30" font-size="10.58" font-weight="bold" fill="#111" textLength="14.43" lengthAdjust="spacingAndGlyphs">NC</text>
<text x="461.74" y="200.30" font-size="10.58" font-weight="bold" fill="#111" textLength="13.78" lengthAdjust="spacingAndGlyphs">1.5</text>
<text x="489.71" y="200.30" font-size="10.58" font-weight="bold" fill="#111" textLength="5.53" lengthAdjust="spacingAndGlyphs">2</text>
<text x="509.82" y="200.30" font-size="10.58" font-weight="bold" fill="#111" textLength="13.60" lengthAdjust="spacingAndGlyphs">2.5</text>
<line x1="457.40" y1="205.50" x2="528.70" y2="205.50" stroke="#000" stroke-width="1.7" stroke-linecap="butt"/>
<text x="473.69" y="219.00" font-size="9.0" font-weight="bold" fill="#111" textLength="39.23" lengthAdjust="spacingAndGlyphs">Bleo U/kg</text>
<polygon points="463.40,100.90 464.23,102.46 465.97,102.77 464.74,104.03 464.99,105.78 463.40,105.00 461.81,105.78 462.06,104.03 460.83,102.77 462.57,102.46" fill="#000"/>
<polygon points="468.10,100.90 468.93,102.46 470.67,102.77 469.44,104.03 469.69,105.78 468.10,105.00 466.51,105.78 466.76,104.03 465.53,102.77 467.27,102.46" fill="#000"/>
<polygon points="472.80,100.90 473.63,102.46 475.37,102.77 474.14,104.03 474.39,105.78 472.80,105.00 471.21,105.78 471.46,104.03 470.23,102.77 471.97,102.46" fill="#000"/>
<polygon points="488.00,97.50 488.83,99.06 490.57,99.37 489.34,100.63 489.59,102.38 488.00,101.60 486.41,102.38 486.66,100.63 485.43,99.37 487.17,99.06" fill="#000"/>
<polygon points="492.70,97.50 493.53,99.06 495.27,99.37 494.04,100.63 494.29,102.38 492.70,101.60 491.11,102.38 491.36,100.63 490.13,99.37 491.87,99.06" fill="#000"/>
<polygon points="497.40,97.50 498.23,99.06 499.97,99.37 498.74,100.63 498.99,102.38 497.40,101.60 495.81,102.38 496.06,100.63 494.83,99.37 496.57,99.06" fill="#000"/>
<polygon points="511.20,82.50 512.03,84.06 513.77,84.37 512.54,85.63 512.79,87.38 511.20,86.60 509.61,87.38 509.86,85.63 508.63,84.37 510.37,84.06" fill="#000"/>
<polygon points="515.90,82.50 516.73,84.06 518.47,84.37 517.24,85.63 517.49,87.38 515.90,86.60 514.31,87.38 514.56,85.63 513.33,84.37 515.07,84.06" fill="#000"/>
<polygon points="520.60,82.50 521.43,84.06 523.17,84.37 521.94,85.63 522.19,87.38 520.60,86.60 519.01,87.38 519.26,85.63 518.03,84.37 519.77,84.06" fill="#000"/>
<text transform="translate(406.40,181.91) rotate(-90)" x="0" y="0" font-size="10.4" font-weight="bold" fill="#111" textLength="100.46" lengthAdjust="spacingAndGlyphs">Leukocytes X 10<tspan font-size="7.28" dy="-4.37">5</tspan><tspan dy="4.37">/mL</tspan></text>
<line x1="45.60" y1="323.00" x2="45.60" y2="438.70" stroke="#000" stroke-width="1.3" stroke-linecap="butt"/>
<line x1="41.30" y1="323.60" x2="45.60" y2="323.60" stroke="#000" stroke-width="1.3" stroke-linecap="butt"/>
<line x1="41.30" y1="346.50" x2="45.60" y2="346.50" stroke="#000" stroke-width="1.3" stroke-linecap="butt"/>
<line x1="41.30" y1="369.40" x2="45.60" y2="369.40" stroke="#000" stroke-width="1.3" stroke-linecap="butt"/>
<line x1="41.30" y1="392.30" x2="45.60" y2="392.30" stroke="#000" stroke-width="1.3" stroke-linecap="butt"/>
<line x1="41.30" y1="415.20" x2="45.60" y2="415.20" stroke="#000" stroke-width="1.3" stroke-linecap="butt"/>
<line x1="41.30" y1="438.10" x2="45.60" y2="438.10" stroke="#000" stroke-width="1.3" stroke-linecap="butt"/>
<text x="24.95" y="328.28" font-size="10.8" font-weight="bold" fill="#111" textLength="14.41" lengthAdjust="spacingAndGlyphs">1.0</text>
<text x="24.85" y="351.08" font-size="10.8" font-weight="bold" fill="#111" textLength="14.41" lengthAdjust="spacingAndGlyphs">0.8</text>
<text x="24.90" y="374.08" font-size="10.8" font-weight="bold" fill="#111" textLength="14.41" lengthAdjust="spacingAndGlyphs">0.6</text>
<text x="24.59" y="396.98" font-size="10.8" font-weight="bold" fill="#111" textLength="14.41" lengthAdjust="spacingAndGlyphs">0.4</text>
<text x="24.94" y="419.78" font-size="10.8" font-weight="bold" fill="#111" textLength="14.41" lengthAdjust="spacingAndGlyphs">0.2</text>
<text x="24.95" y="442.58" font-size="10.8" font-weight="bold" fill="#111" textLength="14.41" lengthAdjust="spacingAndGlyphs">0.0</text>
<line x1="45.00" y1="438.10" x2="160.60" y2="438.10" stroke="#000" stroke-width="1.3" stroke-linecap="butt"/>
<line x1="63.60" y1="438.10" x2="63.60" y2="442.50" stroke="#000" stroke-width="1.3" stroke-linecap="butt"/>
<line x1="89.60" y1="438.10" x2="89.60" y2="442.50" stroke="#000" stroke-width="1.3" stroke-linecap="butt"/>
<line x1="115.60" y1="438.10" x2="115.60" y2="442.50" stroke="#000" stroke-width="1.3" stroke-linecap="butt"/>
<line x1="142.10" y1="438.10" x2="142.10" y2="442.50" stroke="#000" stroke-width="1.3" stroke-linecap="butt"/>
<rect x="54.90" y="436.00" width="17.30" height="2.10" fill="#000"/>
<line x1="63.55" y1="436.00" x2="63.55" y2="434.40" stroke="#8a8a8a" stroke-width="1.0" stroke-linecap="butt"/>
<line x1="59.25" y1="434.40" x2="67.85" y2="434.40" stroke="#8a8a8a" stroke-width="1.2" stroke-linecap="butt"/>
<rect x="81.00" y="409.80" width="17.40" height="28.30" fill="#000"/>
<line x1="89.70" y1="409.80" x2="89.70" y2="405.20" stroke="#222" stroke-width="1.0" stroke-linecap="butt"/>
<line x1="85.40" y1="405.20" x2="94.00" y2="405.20" stroke="#222" stroke-width="1.2" stroke-linecap="butt"/>
<rect x="107.00" y="383.00" width="17.70" height="55.10" fill="#000"/>
<line x1="115.85" y1="383.00" x2="115.85" y2="374.40" stroke="#222" stroke-width="1.0" stroke-linecap="butt"/>
<line x1="111.55" y1="374.40" x2="120.15" y2="374.40" stroke="#222" stroke-width="1.2" stroke-linecap="butt"/>
<rect x="133.80" y="350.30" width="17.40" height="87.80" fill="#000"/>
<line x1="142.50" y1="350.30" x2="142.50" y2="343.60" stroke="#222" stroke-width="1.0" stroke-linecap="butt"/>
<line x1="138.20" y1="343.60" x2="146.80" y2="343.60" stroke="#222" stroke-width="1.2" stroke-linecap="butt"/>
<text x="56.21" y="453.83" font-size="10.37" font-weight="bold" fill="#111" textLength="14.01" lengthAdjust="spacingAndGlyphs">NC</text>
<text x="83.48" y="453.83" font-size="10.37" font-weight="bold" fill="#111" textLength="12.72" lengthAdjust="spacingAndGlyphs">1.5</text>
<text x="113.37" y="453.83" font-size="10.37" font-weight="bold" fill="#111" textLength="4.61" lengthAdjust="spacingAndGlyphs">2</text>
<text x="135.72" y="453.83" font-size="10.37" font-weight="bold" fill="#111" textLength="13.39" lengthAdjust="spacingAndGlyphs">2.5</text>
<line x1="77.40" y1="460.70" x2="154.70" y2="460.70" stroke="#000" stroke-width="1.7" stroke-linecap="butt"/>
<text x="89.83" y="476.60" font-size="9.6" font-weight="bold" fill="#111" textLength="43.14" lengthAdjust="spacingAndGlyphs">Bleo U/kg</text>
<polygon points="89.70,396.30 90.53,397.86 92.27,398.17 91.04,399.43 91.29,401.18 89.70,400.40 88.11,401.18 88.36,399.43 87.13,398.17 88.87,397.86" fill="#000"/>
<polygon points="110.90,365.60 111.73,367.16 113.47,367.47 112.24,368.73 112.49,370.48 110.90,369.70 109.31,370.48 109.56,368.73 108.33,367.47 110.07,367.16" fill="#000"/>
<polygon points="115.90,365.60 116.73,367.16 118.47,367.47 117.24,368.73 117.49,370.48 115.90,369.70 114.31,370.48 114.56,368.73 113.33,367.47 115.07,367.16" fill="#000"/>
<polygon points="120.90,365.60 121.73,367.16 123.47,367.47 122.24,368.73 122.49,370.48 120.90,369.70 119.31,370.48 119.56,368.73 118.33,367.47 120.07,367.16" fill="#000"/>
<polygon points="137.50,335.90 138.33,337.46 140.07,337.77 138.84,339.03 139.09,340.78 137.50,340.00 135.91,340.78 136.16,339.03 134.93,337.77 136.67,337.46" fill="#000"/>
<polygon points="142.50,335.90 143.33,337.46 145.07,337.77 143.84,339.03 144.09,340.78 142.50,340.00 140.91,340.78 141.16,339.03 139.93,337.77 141.67,337.46" fill="#000"/>
<polygon points="147.50,335.90 148.33,337.46 150.07,337.77 148.84,339.03 149.09,340.78 147.50,340.00 145.91,340.78 146.16,339.03 144.93,337.77 146.67,337.46" fill="#000"/>
<text transform="translate(17.00,434.37) rotate(-90)" x="0" y="0" font-size="10.7" font-weight="bold" fill="#111" textLength="110.05" lengthAdjust="spacingAndGlyphs">Neutrophils X 10<tspan font-size="7.49" dy="-4.49">5</tspan><tspan dy="4.49">/mL</tspan></text>
<line x1="236.10" y1="328.90" x2="236.10" y2="438.20" stroke="#000" stroke-width="1.3" stroke-linecap="butt"/>
<line x1="231.80" y1="329.50" x2="236.10" y2="329.50" stroke="#000" stroke-width="1.3" stroke-linecap="butt"/>
<line x1="231.80" y1="365.60" x2="236.10" y2="365.60" stroke="#000" stroke-width="1.3" stroke-linecap="butt"/>
<line x1="231.80" y1="401.70" x2="236.10" y2="401.70" stroke="#000" stroke-width="1.3" stroke-linecap="butt"/>
<line x1="231.80" y1="437.80" x2="236.10" y2="437.80" stroke="#000" stroke-width="1.3" stroke-linecap="butt"/>
<text x="217.01" y="334.94" font-size="10.4" font-weight="bold" fill="#111" textLength="13.30" lengthAdjust="spacingAndGlyphs">1.5</text>
<text x="217.13" y="370.54" font-size="10.4" font-weight="bold" fill="#111" textLength="13.30" lengthAdjust="spacingAndGlyphs">1.0</text>
<text x="217.01" y="406.04" font-size="10.4" font-weight="bold" fill="#111" textLength="13.30" lengthAdjust="spacingAndGlyphs">0.5</text>
<text x="217.13" y="441.74" font-size="10.4" font-weight="bold" fill="#111" textLength="13.30" lengthAdjust="spacingAndGlyphs">0.0</text>
<line x1="235.50" y1="437.60" x2="344.10" y2="437.60" stroke="#000" stroke-width="1.3" stroke-linecap="butt"/>
<line x1="253.10" y1="437.60" x2="253.10" y2="442.00" stroke="#000" stroke-width="1.3" stroke-linecap="butt"/>
<line x1="277.20" y1="437.60" x2="277.20" y2="442.00" stroke="#000" stroke-width="1.3" stroke-linecap="butt"/>
<line x1="302.00" y1="437.60" x2="302.00" y2="442.00" stroke="#000" stroke-width="1.3" stroke-linecap="butt"/>
<line x1="326.40" y1="437.60" x2="326.40" y2="442.00" stroke="#000" stroke-width="1.3" stroke-linecap="butt"/>
<rect x="245.00" y="434.00" width="15.50" height="3.60" fill="#000"/>
<line x1="252.75" y1="434.00" x2="252.75" y2="432.30" stroke="#6a6a6a" stroke-width="1.0" stroke-linecap="butt"/>
<line x1="248.55" y1="432.30" x2="256.95" y2="432.30" stroke="#6a6a6a" stroke-width="1.2" stroke-linecap="butt"/>
<rect x="269.00" y="420.10" width="16.40" height="17.50" fill="#000"/>
<line x1="277.20" y1="420.10" x2="277.20" y2="418.10" stroke="#222" stroke-width="1.0" stroke-linecap="butt"/>
<line x1="273.00" y1="418.10" x2="281.40" y2="418.10" stroke="#222" stroke-width="1.2" stroke-linecap="butt"/>
<rect x="294.00" y="397.20" width="16.50" height="40.40" fill="#000"/>
<line x1="302.25" y1="397.20" x2="302.25" y2="390.00" stroke="#222" stroke-width="1.0" stroke-linecap="butt"/>
<line x1="298.05" y1="390.00" x2="306.45" y2="390.00" stroke="#222" stroke-width="1.2" stroke-linecap="butt"/>
<rect x="319.20" y="364.50" width="16.10" height="73.10" fill="#000"/>
<line x1="327.25" y1="364.50" x2="327.25" y2="354.90" stroke="#222" stroke-width="1.0" stroke-linecap="butt"/>
<line x1="323.05" y1="354.90" x2="331.45" y2="354.90" stroke="#222" stroke-width="1.2" stroke-linecap="butt"/>
<text x="245.78" y="452.18" font-size="9.94" font-weight="bold" fill="#111" textLength="12.40" lengthAdjust="spacingAndGlyphs">NC</text>
<text x="270.58" y="452.18" font-size="9.94" font-weight="bold" fill="#111" textLength="12.72" lengthAdjust="spacingAndGlyphs">1.5</text>
<text x="299.48" y="452.18" font-size="9.94" font-weight="bold" fill="#111" textLength="4.38" lengthAdjust="spacingAndGlyphs">2</text>
<text x="320.55" y="452.18" font-size="9.94" font-weight="bold" fill="#111" textLength="12.34" lengthAdjust="spacingAndGlyphs">2.5</text>
<line x1="266.10" y1="456.90" x2="338.70" y2="456.90" stroke="#000" stroke-width="1.7" stroke-linecap="butt"/>
<text x="283.17" y="471.60" font-size="9.2" font-weight="bold" fill="#111" textLength="40.57" lengthAdjust="spacingAndGlyphs">Bleo U/kg</text>
<polygon points="274.75,411.20 275.58,412.76 277.32,413.07 276.09,414.33 276.34,416.08 274.75,415.30 273.16,416.08 273.41,414.33 272.18,413.07 273.92,412.76" fill="#000"/>
<polygon points="279.65,411.20 280.48,412.76 282.22,413.07 280.99,414.33 281.24,416.08 279.65,415.30 278.06,416.08 278.31,414.33 277.08,413.07 278.82,412.76" fill="#000"/>
<polygon points="299.75,382.50 300.58,384.06 302.32,384.37 301.09,385.63 301.34,387.38 299.75,386.60 298.16,387.38 298.41,385.63 297.18,384.37 298.92,384.06" fill="#000"/>
<polygon points="304.65,382.50 305.48,384.06 307.22,384.37 305.99,385.63 306.24,387.38 304.65,386.60 303.06,387.38 303.31,385.63 302.08,384.37 303.82,384.06" fill="#000"/>
<polygon points="322.30,346.00 323.13,347.56 324.87,347.87 323.64,349.13 323.89,350.88 322.30,350.10 320.71,350.88 320.96,349.13 319.73,347.87 321.47,347.56" fill="#000"/>
<polygon points="327.20,346.00 328.03,347.56 329.77,347.87 328.54,349.13 328.79,350.88 327.20,350.10 325.61,350.88 325.86,349.13 324.63,347.87 326.37,347.56" fill="#000"/>
<polygon points="332.10,346.00 332.93,347.56 334.67,347.87 333.44,349.13 333.69,350.88 332.10,350.10 330.51,350.88 330.76,349.13 329.53,347.87 331.27,347.56" fill="#000"/>
<text transform="translate(208.20,439.12) rotate(-90)" x="0" y="0" font-size="10.7" font-weight="bold" fill="#111" textLength="111.38" lengthAdjust="spacingAndGlyphs">Lymphocytes X 10<tspan font-size="7.49" dy="-4.49">5</tspan><tspan dy="4.49">/mL</tspan></text>
<line x1="432.50" y1="320.90" x2="432.50" y2="441.40" stroke="#000" stroke-width="1.3" stroke-linecap="butt"/>
<line x1="428.20" y1="321.50" x2="432.50" y2="321.50" stroke="#000" stroke-width="1.3" stroke-linecap="butt"/>
<line x1="428.20" y1="351.45" x2="432.50" y2="351.45" stroke="#000" stroke-width="1.3" stroke-linecap="butt"/>
<line x1="428.20" y1="381.40" x2="432.50" y2="381.40" stroke="#000" stroke-width="1.3" stroke-linecap="butt"/>
<line x1="428.20" y1="411.35" x2="432.50" y2="411.35" stroke="#000" stroke-width="1.3" stroke-linecap="butt"/>
<line x1="428.20" y1="441.30" x2="432.50" y2="441.30" stroke="#000" stroke-width="1.3" stroke-linecap="butt"/>
<text x="420.25" y="325.98" font-size="10.8" font-weight="bold" fill="#111" textLength="5.71" lengthAdjust="spacingAndGlyphs">8</text>
<text x="420.30" y="355.78" font-size="10.8" font-weight="bold" fill="#111" textLength="5.71" lengthAdjust="spacingAndGlyphs">6</text>
<text x="420.00" y="385.58" font-size="10.8" font-weight="bold" fill="#111" textLength="5.71" lengthAdjust="spacingAndGlyphs">4</text>
<text x="420.35" y="415.48" font-size="10.8" font-weight="bold" fill="#111" textLength="5.71" lengthAdjust="spacingAndGlyphs">2</text>
<text x="420.36" y="445.18" font-size="10.8" font-weight="bold" fill="#111" textLength="5.71" lengthAdjust="spacingAndGlyphs">0</text>
<line x1="431.90" y1="440.80" x2="546.50" y2="440.80" stroke="#000" stroke-width="1.3" stroke-linecap="butt"/>
<line x1="450.30" y1="440.80" x2="450.30" y2="445.20" stroke="#000" stroke-width="1.3" stroke-linecap="butt"/>
<line x1="476.70" y1="440.80" x2="476.70" y2="445.20" stroke="#000" stroke-width="1.3" stroke-linecap="butt"/>
<line x1="502.70" y1="440.80" x2="502.70" y2="445.20" stroke="#000" stroke-width="1.3" stroke-linecap="butt"/>
<line x1="528.70" y1="440.80" x2="528.70" y2="445.20" stroke="#000" stroke-width="1.3" stroke-linecap="butt"/>
<rect x="441.80" y="400.40" width="17.30" height="40.40" fill="#000"/>
<line x1="450.45" y1="400.40" x2="450.45" y2="394.60" stroke="#222" stroke-width="1.0" stroke-linecap="butt"/>
<line x1="445.95" y1="394.60" x2="454.95" y2="394.60" stroke="#222" stroke-width="1.2" stroke-linecap="butt"/>
<rect x="467.70" y="343.20" width="17.90" height="97.60" fill="#000"/>
<line x1="476.65" y1="343.20" x2="476.65" y2="334.50" stroke="#222" stroke-width="1.0" stroke-linecap="butt"/>
<line x1="472.15" y1="334.50" x2="481.15" y2="334.50" stroke="#222" stroke-width="1.2" stroke-linecap="butt"/>
<rect x="494.30" y="353.90" width="17.30" height="86.90" fill="#000"/>
<line x1="502.95" y1="353.90" x2="502.95" y2="345.50" stroke="#222" stroke-width="1.0" stroke-linecap="butt"/>
<line x1="498.45" y1="345.50" x2="507.45" y2="345.50" stroke="#222" stroke-width="1.2" stroke-linecap="butt"/>
<rect x="520.80" y="341.80" width="17.10" height="99.00" fill="#000"/>
<line x1="529.35" y1="341.80" x2="529.35" y2="331.10" stroke="#222" stroke-width="1.0" stroke-linecap="butt"/>
<line x1="524.85" y1="331.10" x2="533.85" y2="331.10" stroke="#222" stroke-width="1.2" stroke-linecap="butt"/>
<text x="443.35" y="457.25" font-size="10.15" font-weight="bold" fill="#111" textLength="13.15" lengthAdjust="spacingAndGlyphs">NC</text>
<text x="469.89" y="457.25" font-size="10.15" font-weight="bold" fill="#111" textLength="12.61" lengthAdjust="spacingAndGlyphs">1.5</text>
<text x="500.47" y="457.25" font-size="10.15" font-weight="bold" fill="#111" textLength="4.61" lengthAdjust="spacingAndGlyphs">2</text>
<text x="522.13" y="457.25" font-size="10.15" font-weight="bold" fill="#111" textLength="13.18" lengthAdjust="spacingAndGlyphs">2.5</text>
<line x1="466.10" y1="463.60" x2="543.40" y2="463.60" stroke="#000" stroke-width="1.7" stroke-linecap="butt"/>
<text x="483.55" y="479.20" font-size="9.6" font-weight="bold" fill="#111" textLength="41.91" lengthAdjust="spacingAndGlyphs">Bleo U/kg</text>
<polygon points="471.60,325.20 472.43,326.76 474.17,327.07 472.94,328.33 473.19,330.08 471.60,329.30 470.01,330.08 470.26,328.33 469.03,327.07 470.77,326.76" fill="#000"/>
<polygon points="476.60,325.20 477.43,326.76 479.17,327.07 477.94,328.33 478.19,330.08 476.60,329.30 475.01,330.08 475.26,328.33 474.03,327.07 475.77,326.76" fill="#000"/>
<polygon points="481.60,325.20 482.43,326.76 484.17,327.07 482.94,328.33 483.19,330.08 481.60,329.30 480.01,330.08 480.26,328.33 479.03,327.07 480.77,326.76" fill="#000"/>
<polygon points="500.50,334.50 501.33,336.06 503.07,336.37 501.84,337.63 502.09,339.38 500.50,338.60 498.91,339.38 499.16,337.63 497.93,336.37 499.67,336.06" fill="#000"/>
<polygon points="505.50,334.50 506.33,336.06 508.07,336.37 506.84,337.63 507.09,339.38 505.50,338.60 503.91,339.38 504.16,337.63 502.93,336.37 504.67,336.06" fill="#000"/>
<polygon points="524.40,321.80 525.23,323.36 526.97,323.67 525.74,324.93 525.99,326.68 524.40,325.90 522.81,326.68 523.06,324.93 521.83,323.67 523.57,323.36" fill="#000"/>
<polygon points="529.40,321.80 530.23,323.36 531.97,323.67 530.74,324.93 530.99,326.68 529.40,325.90 527.81,326.68 528.06,324.93 526.83,323.67 528.57,323.36" fill="#000"/>
<polygon points="534.40,321.80 535.23,323.36 536.97,323.67 535.74,324.93 535.99,326.68 534.40,325.90 532.81,326.68 533.06,324.93 531.83,323.67 533.57,323.36" fill="#000"/>
<text transform="translate(406.20,438.42) rotate(-90)" x="0" y="0" font-size="11.0" font-weight="bold" fill="#111" textLength="127.62" lengthAdjust="spacingAndGlyphs">Macrophages X 10<tspan font-size="7.70" dy="-4.62">5</tspan><tspan dy="4.62">/mL</tspan></text>
</g>
</svg>
</body></html>
